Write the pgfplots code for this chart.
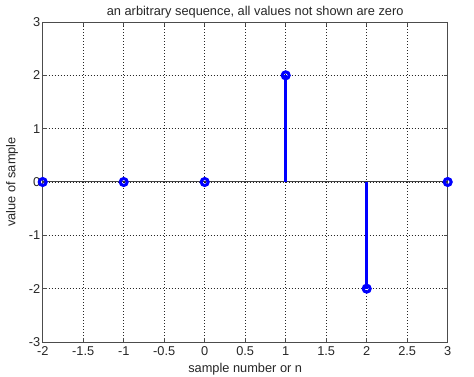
\documentclass[border=0pt]{standalone}
\usepackage{pgfplots}
\pgfplotsset{compat=1.18}
\usepackage{fontspec}
\setmainfont{Liberation Sans}
\begin{document}
\begin{tikzpicture}[x=1pt,y=1pt]
\begin{axis}[
  at={(0,0)}, anchor=south west,
  scale only axis, width=405pt, height=320pt,
  xmin=-2, xmax=3, ymin=-3, ymax=3,
  xtick={-2,-1.5,...,3}, ytick={-3,-2,...,3},
  /pgf/number format/assume math mode=true,
  font=\fontsize{12.8}{15}\selectfont,
  every tick label/.append style={text=black!85},
  grid=major,
  major grid style={black!85, line width=0.7pt, dash pattern=on 1pt off 2pt},
  axis line style={black!70, line width=0.8pt},
  tick style={black!70, line width=0.7pt},
  tick align=inside, major tick length=4pt,
  xticklabel style={yshift=-1.5pt},
  yticklabel style={xshift=1pt},
  title={an arbitrary sequence, all values not shown are zero},
  title style={yshift=-6pt, xshift=10pt, text=black!85},
  xlabel={sample number or n},
  ylabel={value of sample},
  xlabel style={yshift=0pt, text=black!85},
  ylabel style={yshift=4pt, text=black!85},
  clip=false,
]
\addplot[black!75, line width=1pt] coordinates {(-2,0) (3,0)};
\addplot[ycomb, blue, line width=2.6pt, mark=o, mark size=3.5pt, mark options={line width=3pt, fill=white}]
  coordinates {(-2,0) (-1,0) (0,0) (1,2) (2,-2) (3,0)};
\end{axis}
\pgfresetboundingbox
\path (-42.7,-35) rectangle (431.3,342);
\end{tikzpicture}
\end{document}
